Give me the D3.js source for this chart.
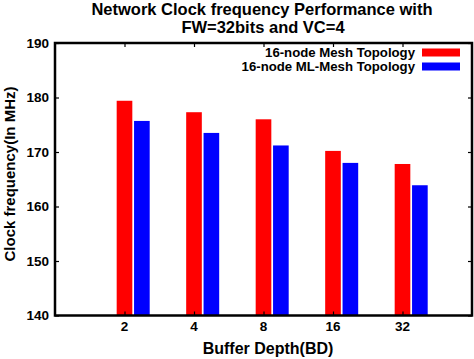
<!DOCTYPE html>
<html><head><meta charset="utf-8">
<script src="https://cdn.jsdelivr.net/npm/d3@7"></script>
<style>body{margin:0;background:#fff}svg{display:block}text{font-family:"Liberation Sans",Arial,sans-serif;font-weight:bold}</style>
</head><body>
<svg id="c" width="474" height="359"></svg>
<script>
const categories = ["2","4","8","16","32"];
const seriesNames = ["16-node Mesh Topology","16-node ML-Mesh Topology"];
const meshValues = [179.4,177.3,176.0,170.2,167.8];
const mlMeshValues = [175.7,173.5,171.2,168.0,163.9];
const yTicks = [140,150,160,170,180,190];
const colors = ["#ff0000","#0000ff"];

const svg = d3.select("#c");
const L=55, R=472, T=43, B=315.5;
const x = d3.scaleLinear().domain([0,6]).range([L,R]);
const y = d3.scaleLinear().domain([140,190]).range([B,T]);
const bw = 0.225, off = [ -bw/2, 0.25 - bw/2 ];

// title
svg.append("text").attr("x",262).attr("y",15).attr("text-anchor","middle").attr("font-size",16.5).text("Network Clock frequency Performance with");
svg.append("text").attr("x",263).attr("y",33).attr("text-anchor","middle").attr("font-size",16.5).text("FW=32bits and VC=4");

// bars
[meshValues, mlMeshValues].forEach((vals,si)=>{
  svg.append("g").selectAll("rect").data(vals).join("rect")
    .attr("x",(d,i)=>x(i+1+off[si]))
    .attr("width",x(bw)-x(0))
    .attr("y",d=>y(d))
    .attr("height",d=>y(140)-y(d))
    .attr("fill",colors[si]);
});

// axes
const tk = 4;
svg.append("g").attr("transform",`translate(${L},0)`)
  .call(d3.axisRight(y).tickValues(yTicks).tickSize(tk).tickFormat(""))
  .call(g=>g.select(".domain").remove());
svg.append("g").attr("transform",`translate(${R},0)`)
  .call(d3.axisLeft(y).tickValues(yTicks).tickSize(tk).tickFormat(""))
  .call(g=>g.select(".domain").remove());
svg.append("g").attr("transform",`translate(0,${T})`)
  .call(d3.axisBottom(x).tickValues([1,2,3,4,5]).tickSize(tk).tickFormat(""))
  .call(g=>g.select(".domain").remove());
svg.append("g").attr("transform",`translate(0,${B})`)
  .call(d3.axisTop(x).tickValues([1,2,3,4,5]).tickSize(tk).tickFormat(""))
  .call(g=>g.select(".domain").remove());
svg.selectAll(".tick line").attr("stroke","#000").attr("stroke-width",1.2);

// y tick labels
svg.append("g").selectAll("text").data(yTicks).join("text")
  .attr("x",L-6).attr("y",d=>y(d)+4.5).attr("text-anchor","end").attr("font-size",13.5).text(d=>d);
// x tick labels
svg.append("g").selectAll("text").data(categories).join("text")
  .attr("x",(d,i)=>x(i+1)).attr("y",331).attr("text-anchor","middle").attr("font-size",13.5).text(d=>d);

// frame
svg.append("rect").attr("x",L).attr("y",T).attr("width",R-L).attr("height",B-T)
  .attr("fill","none").attr("stroke","#000").attr("stroke-width",2.5);

// axis titles
svg.append("text").attr("transform","translate(15,174) rotate(-90)").attr("text-anchor","middle").attr("font-size",15).text("Clock frequency(In MHz)");
svg.append("text").attr("x",268).attr("y",354).attr("text-anchor","middle").attr("font-size",16).text("Buffer Depth(BD)");

// legend
const lg = svg.append("g");
seriesNames.forEach((n,i)=>{
  const yy = 52.5 + i*14;
  lg.append("text").attr("x",415).attr("y",yy+4.5).attr("text-anchor","end").attr("font-size",13.2).text(n);
  lg.append("rect").attr("x",422).attr("y",yy-4).attr("width",38).attr("height",8).attr("fill",colors[i]);
});
</script>
</body></html>
